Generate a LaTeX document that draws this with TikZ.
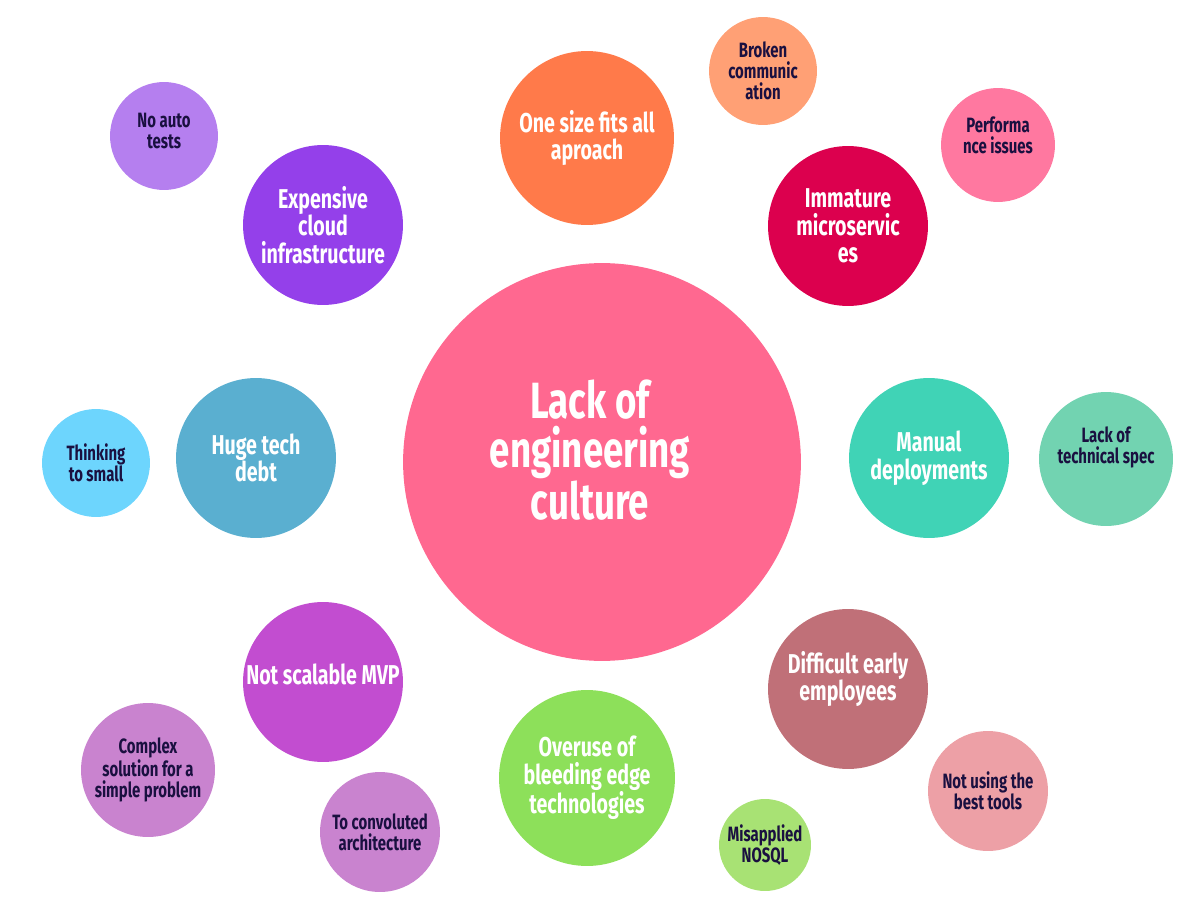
\documentclass[tikz,border=0pt]{standalone}
\usepackage{fontspec}
\setmainfont{Fira Sans}[FakeStretch=0.72]
\usepackage{tikz}
\usetikzlibrary{positioning}

\definecolor{coreclr}{HTML}{FF6890}
\definecolor{onesizeclr}{HTML}{FF7A4A}
\definecolor{brokenclr}{HTML}{FFA075}
\definecolor{perfclr}{HTML}{FF78A0}
\definecolor{immatureclr}{HTML}{DC004E}
\definecolor{cloudclr}{HTML}{9440EA}
\definecolor{autoclr}{HTML}{B57FEF}
\definecolor{debtclr}{HTML}{5AAFD0}
\definecolor{smallclr}{HTML}{6DD5FD}
\definecolor{manualclr}{HTML}{40D3B6}
\definecolor{specclr}{HTML}{72D3B1}
\definecolor{mvpclr}{HTML}{C24DD0}
\definecolor{orchidclr}{HTML}{C983CF}
\definecolor{overuseclr}{HTML}{8DE05A}
\definecolor{nosqlclr}{HTML}{A8E274}
\definecolor{earlyclr}{HTML}{C07078}
\definecolor{toolsclr}{HTML}{EDA0A6}
\definecolor{inkclr}{HTML}{1A1040}

\begin{document}
\begin{tikzpicture}[
        x=0.02cm, y=-0.02cm,
        bubble/.style={circle, inner sep=0pt, draw=none, align=center, minimum size=#1*0.04cm},
        coretext/.style={align=center, text=white, font=\fontsize{29}{28}\selectfont\bfseries},
        majortext/.style={align=center, text=white, font=\fontsize{15.5}{15.6}\selectfont\bfseries},
        minortext/.style={align=center, text=inkclr, font=\fontsize{11.8}{12}\selectfont\bfseries},
        major/.style={bubble=#1, majortext},
        minor/.style={bubble=#1, minortext}
    ]
    \useasboundingbox (0,0) rectangle (1200,919);

    % centre
    \node[bubble=199, fill=coreclr] (core) at (602,462) {};
    \node[coretext, xshift=-0.24cm, yshift=0.24cm] (corelabel) at (core) {Lack of\\engineering\\culture};

    % top
    \node[major=87, fill=onesizeclr] (onesize) at (587,138) {One size fits all\\aproach};
    \node[minor=54, fill=brokenclr] (broken) at (763,71) {Broken\\communic\\ation};
    \node[bubble=57, fill=perfclr] (perf) at (998,145) {};
    \node[minortext, yshift=0.2cm] (perflabel) at (perf) {Performa\\nce issues};
    \node[major=80, fill=immatureclr] (immature) at (848,226) {Immature\\microservic\\es};
    \node[major=80, fill=cloudclr] (cloud) at (323,225) {Expensive\\cloud\\infrastructure};
    \node[bubble=54, fill=autoclr] (autotests) at (164,136) {};
    \node[minortext, yshift=0.1cm] (autolabel) at (autotests) {No auto\\tests};

    % left and right
    \node[major=80, fill=debtclr] (debt) at (256,458) {Huge tech\\debt};
    \node[minor=54, fill=smallclr] (thinking) at (96,463) {Thinking\\to small};
    \node[major=80, fill=manualclr] (manual) at (929,458) {Manual\\deployments};
    \node[bubble=67, fill=specclr] (spec) at (1106,459) {};
    \node[minortext, yshift=0.24cm] (speclabel) at (spec) {Lack of\\technical spec};

    % bottom
    \node[bubble=80, fill=mvpclr] (mvp) at (323,682) {};
    \node[majortext, yshift=0.16cm] (mvplabel) at (mvp) {Not scalable MVP};
    \node[minor=67, fill=orchidclr] (complex) at (148,770) {Complex\\solution for a\\simple problem};
    \node[minor=60, fill=orchidclr] (convoluted) at (380,832) {To convoluted\\architecture};
    \node[major=88, fill=overuseclr] (overuse) at (587,778) {Overuse of\\bleeding edge\\technologies};
    \node[minor=46, fill=nosqlclr] (nosql) at (765,845) {Misapplied\\NOSQL};
    \node[bubble=80, fill=earlyclr] (early) at (848,689) {};
    \node[majortext, yshift=0.2cm] (earlylabel) at (early) {Difficult early\\employees};
    \node[minor=60, fill=toolsclr] (tools) at (988,791) {Not using the\\best tools};

\end{tikzpicture}
\end{document}
